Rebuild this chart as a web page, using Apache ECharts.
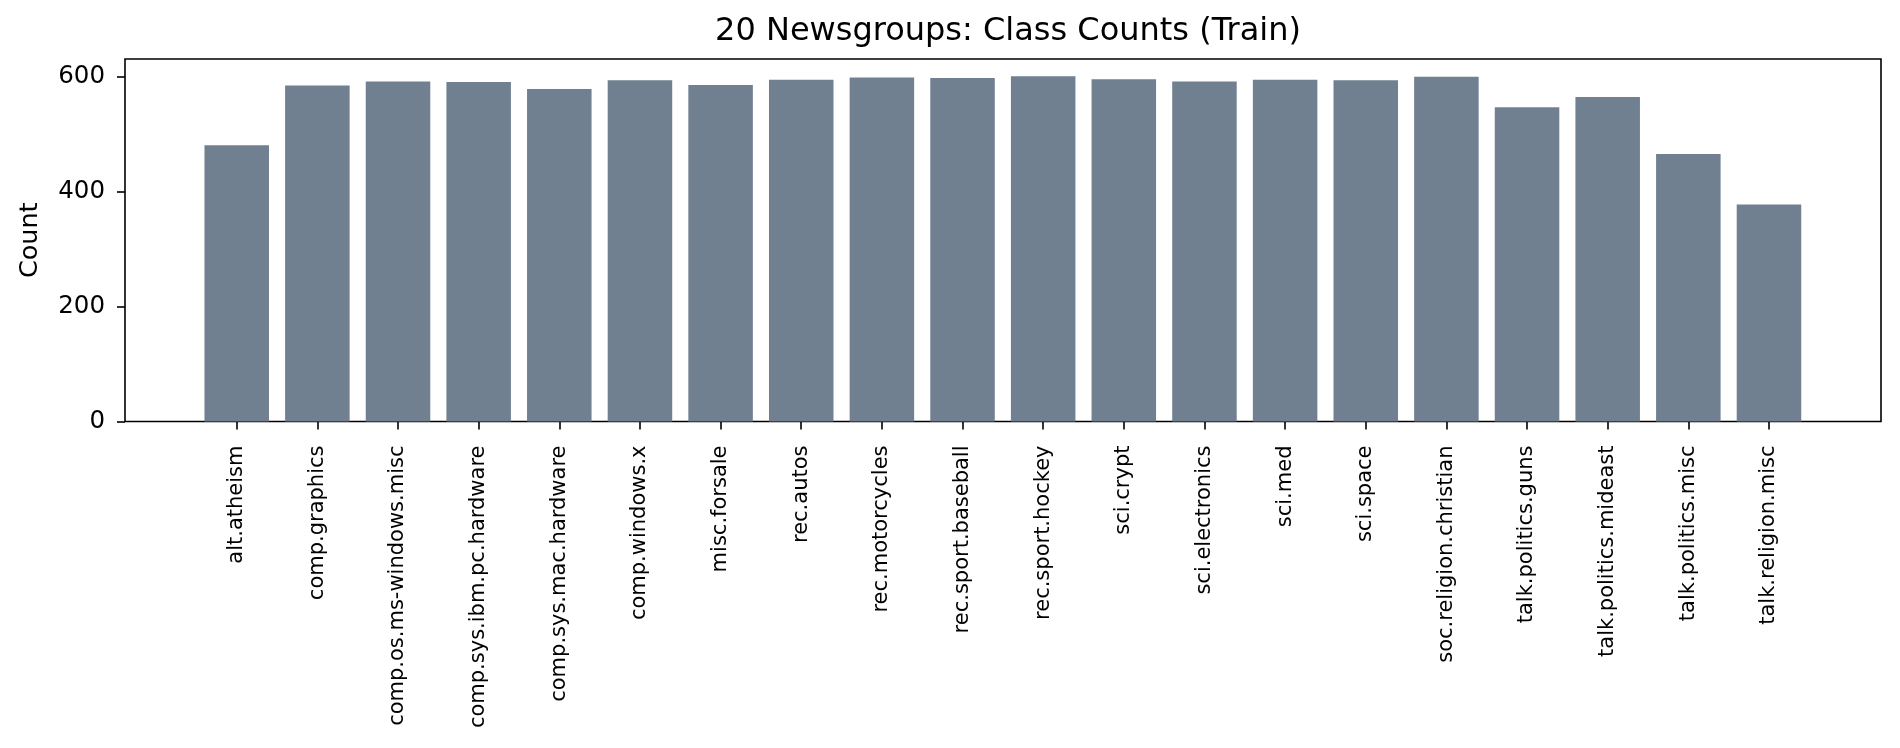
<!DOCTYPE html>
<html><head><meta charset="utf-8">
<script src="https://cdn.jsdelivr.net/npm/echarts@6/dist/echarts.min.js"></script>
<style>html,body{margin:0;padding:0;background:#fff}#c{width:1900px;height:748px}</style>
</head><body><div id="c"></div>
<script>
const categories = ["alt.atheism","comp.graphics","comp.os.ms-windows.misc","comp.sys.ibm.pc.hardware","comp.sys.mac.hardware","comp.windows.x","misc.forsale","rec.autos","rec.motorcycles","rec.sport.baseball","rec.sport.hockey","sci.crypt","sci.electronics","sci.med","sci.space","soc.religion.christian","talk.politics.guns","talk.politics.mideast","talk.politics.misc","talk.religion.misc"];
const counts = [480,584,591,590,578,593,585,594,598,597,600,595,591,594,593,599,546,564,465,377];
const yTicks = [0,200,400,600];

const font = 'DejaVu Sans';
const chart = echarts.init(document.getElementById('c'), null, {renderer:'canvas'});
chart.setOption({
  animation:false,
  textStyle:{fontFamily:font},
  title:{text:'20 Newsgroups: Class Counts (Train)', left:1003, textAlign:'center', top:11,
    textStyle:{fontFamily:font, fontSize:32, fontWeight:'normal', color:'#000'}},
  grid:[
    {left:125, right:19, top:59, bottom:326.5, show:true, borderColor:'#000', borderWidth:1.6, backgroundColor:'transparent'},
    {left:196.4, right:90.7, top:59, bottom:326.5}
  ],
  xAxis:[
    {gridIndex:0, type:'value', min:0, max:1, show:false},
    {gridIndex:1, type:'category', data:categories,
      axisLine:{show:false},
      axisTick:{show:true, alignWithLabel:true, length:8, lineStyle:{color:'#000', width:1.6}},
      axisLabel:{rotate:90, interval:0, margin:24, fontSize:21, color:'#000', fontFamily:font}}
  ],
  yAxis:[
    {gridIndex:0, type:'value', min:0, max:630,
      name:'Count', nameLocation:'middle', nameGap:82, nameRotate:90,
      nameTextStyle:{fontSize:25.5, color:'#000', fontFamily:font},
      axisLine:{show:false}, splitLine:{show:false},
      axisTick:{show:true, length:8, customValues:yTicks, lineStyle:{color:'#000', width:1.6}},
      axisLabel:{customValues:yTicks, margin:20, fontSize:24.5, color:'#000', fontFamily:font}},
    {gridIndex:1, type:'value', min:0, max:630, show:false, splitLine:{show:false}}
  ],
  series:[{type:'bar', xAxisIndex:1, yAxisIndex:1, data:counts, barWidth:'80%',
    itemStyle:{color:'#708090'}}]
});
</script></body></html>
